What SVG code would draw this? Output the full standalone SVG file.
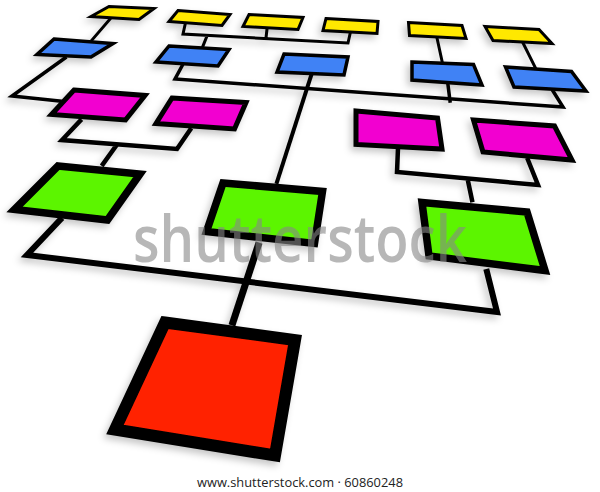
<svg xmlns="http://www.w3.org/2000/svg" width="600" height="492" viewBox="0 0 600 492">
<defs>
<filter id="sh" x="-20%" y="-20%" width="140%" height="150%">
<feDropShadow dx="-3" dy="4" stdDeviation="3.5" flood-color="#000" flood-opacity="0.22"/>
</filter>
<style>
.n{stroke:#000;stroke-linejoin:miter}
.y{fill:#ffe800;stroke-width:3}
.b{fill:#3f82f5;stroke-width:3.5}
.m{fill:#f200d0;stroke-width:5}
.g{fill:#5cf500;stroke-width:7.5}
.r{fill:#ff2200;stroke-width:12}
.c{fill:none;stroke:#000;stroke-linejoin:miter;stroke-linecap:square}
.wm{font-family:"Open Sans","DejaVu Sans",sans-serif;font-weight:600;fill:#888;opacity:0.6}
.ft{font-family:"Open Sans","DejaVu Sans",sans-serif;fill:#222}
</style>
</defs>
<rect width="600" height="492" fill="#fff"/>
<g id="connectors" filter="url(#sh)">
<path class="c" stroke-width="3" d="M110,19 L92,40"/>
<path class="c" stroke-width="3" d="M185,25 L183,34 L348,43 L350,34 M267,29 L266,38 M207,36 L203,46"/>
<path class="c" stroke-width="3" d="M437,38 L442,61 M523,43 L535,67"/>
<path class="c" stroke-width="3.5" d="M65,58 L12,96 L60,101"/>
<path class="c" stroke-width="3.5" d="M182,66 L175,79 L563,107 L553,91 M448,85 L450,101"/>
<path class="c" stroke-width="4" d="M311,76 L277,182"/>
<path class="c" stroke-width="4.5" d="M80,121 L62,140 L177,149 L190,130 M116,146 L103,164"/>
<path class="c" stroke-width="4.5" d="M398,148 L397,172 L538,185 L528,160 M468,181 L472,200"/>
<path class="c" stroke-width="6" d="M60,220 L27,255 L497,312 L487,272"/>
<path class="c" stroke-width="7" d="M258,246 L233,322"/>
</g>
<g filter="url(#sh)">
<g id="y1"><polygon class="n y" points="109,6.5 154,8.5 139,19.5 91,16.5"/></g>
<g id="y2"><polygon class="n y" points="178,10.5 230,14.5 222,25.5 169,21.5"/></g>
<g id="y3"><polygon class="n y" points="249,14.5 303,17.5 298,29.5 243,26.5"/></g>
<g id="y4"><polygon class="n y" points="326,18.5 378,21.5 377,33.5 323,30.5"/></g>
<g id="y5"><polygon class="n y" points="408.5,22.5 462,25.5 466,38.5 409.5,35.5"/></g>
<g id="y6"><polygon class="n y" points="485,26.5 539,29.5 552,43.5 493,40.5"/></g>
<g id="b1"><polygon class="n b" points="54,39 113,43.5 91,57 37,54.5"/></g>
<g id="b2"><polygon class="n b" points="169,46 229,49.5 218,66 156,62"/></g>
<g id="b3"><polygon class="n b" points="284,54 348,57 344,75 277,72"/></g>
<g id="b4"><polygon class="n b" points="412,62 473.5,64.5 482,85 412,80"/></g>
<g id="b5"><polygon class="n b" points="505.5,67 571.5,71.5 586,91 514,87"/></g>
<g id="m1"><polygon class="n m" points="74,90 145,95.5 125.5,120 51.5,114.5"/></g>
<g id="m2"><polygon class="n m" points="172,98 246,102.5 234.5,129 156,123.5"/></g>
<g id="m3"><polygon class="n m" points="356,111 437.5,118 442,149 356,144.5"/></g>
<g id="m4"><polygon class="n m" points="473.5,120 554.5,126 572,160 483,152"/></g>
<g id="g1"><polygon class="n g" points="58,166 140,174 107.5,220 14.5,209.5"/></g>
<g id="g2"><polygon class="n g" points="223,183 322.5,191.5 314.5,243.5 206.5,231.5"/></g>
<g id="g3"><polygon class="n g" points="422,202.5 527,212 545,270.5 429,256"/></g>
<g id="red"><polygon class="n r" points="165,322.5 295,340 275,455.5 115,429.5"/></g>
</g>
<text class="wm" x="133" y="262" font-size="66" textLength="334" lengthAdjust="spacingAndGlyphs">shutterstock</text>
<text class="ft" x="197" y="487" font-size="13.5" textLength="206" lengthAdjust="spacingAndGlyphs">www.shutterstock.com · 60860248</text>
</svg>
